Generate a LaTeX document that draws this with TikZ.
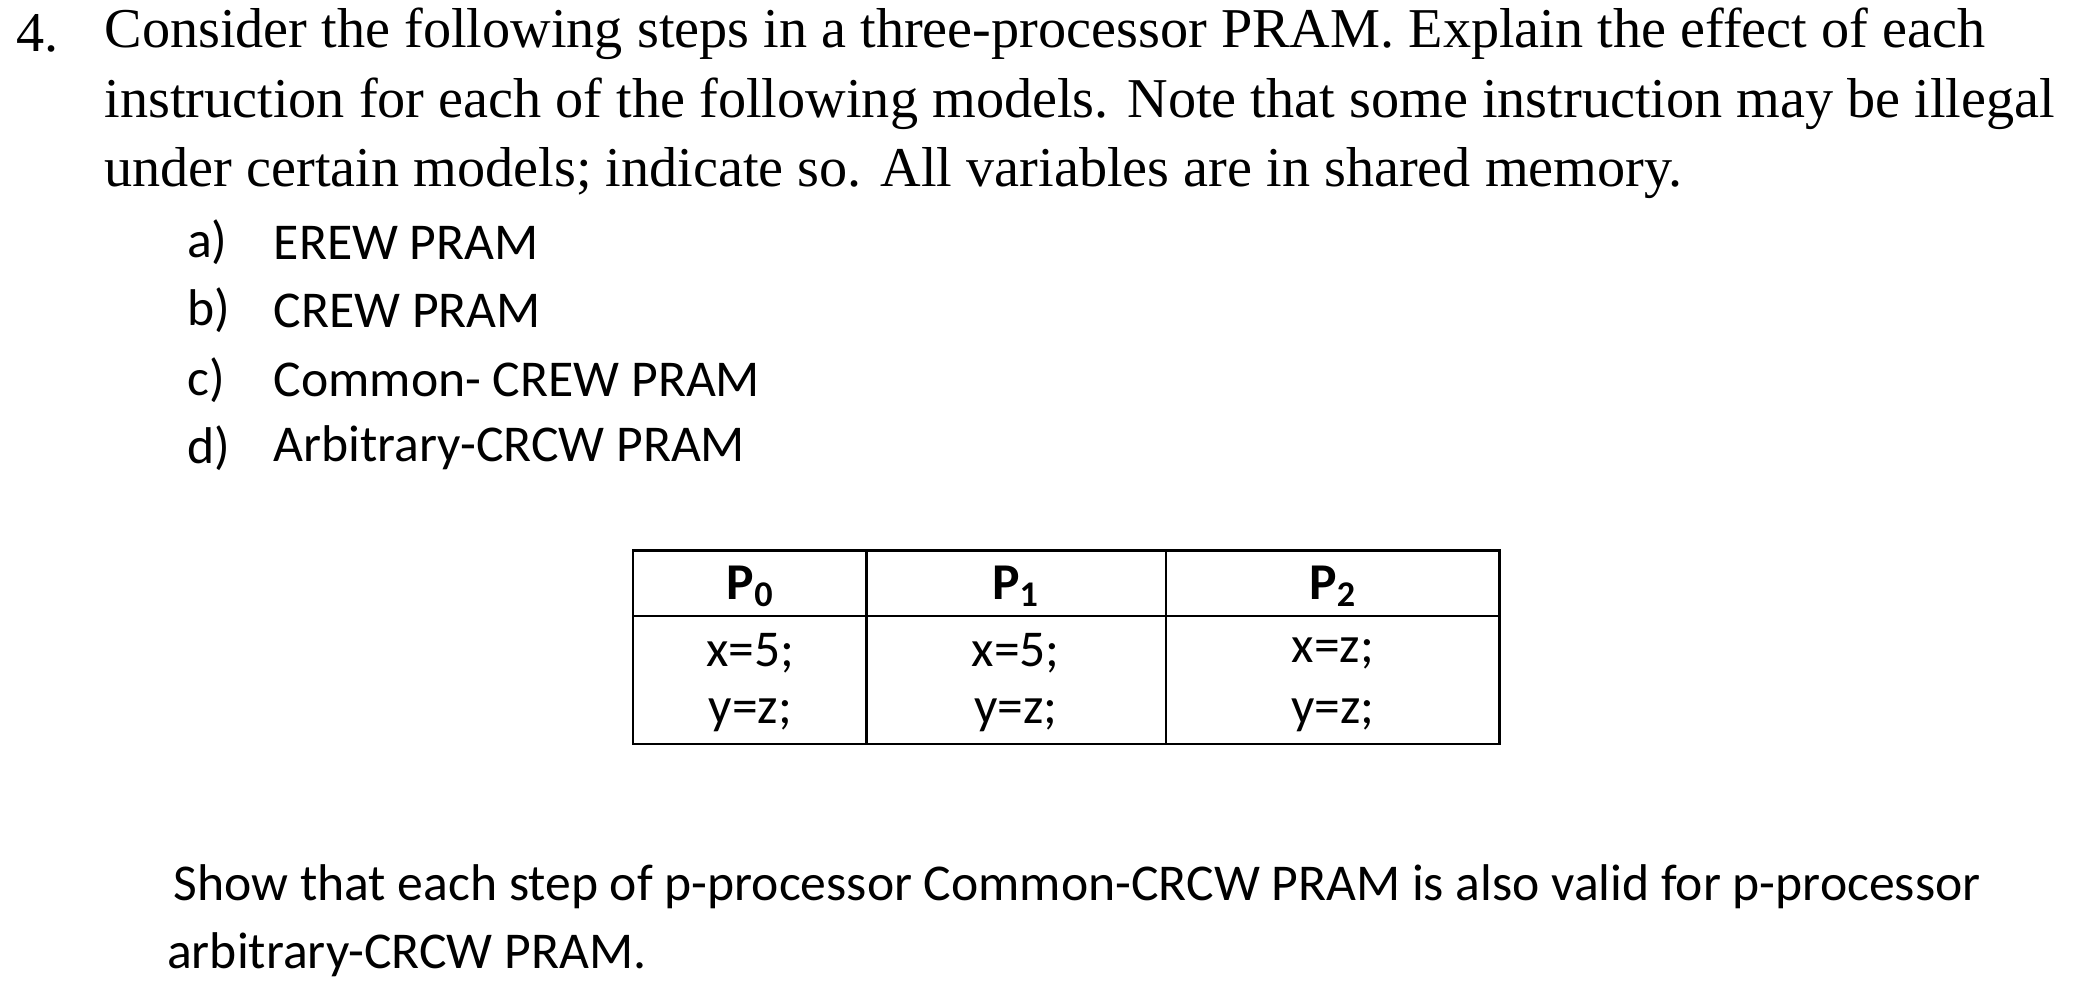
\documentclass[tikz,border=0pt]{standalone}
\usepackage{fontspec}
\setmainfont{Liberation Serif}
\newfontfamily\calib{Carlito}
\begin{document}
\begin{tikzpicture}[x=0.48pt,y=-0.48pt,
  serif/.style={anchor=west,inner sep=0pt,font=\fontsize{20.25}{24}\selectfont},
  sans/.style={anchor=west,inner sep=0pt,font=\calib\fontsize{18.6}{22}\selectfont},
  cell/.style={inner sep=0pt,font=\calib\fontsize{18.6}{22}\selectfont},
  rule/.style={line width=0.8pt}]
\useasboundingbox (0,0) rectangle (1568,755);
\node[serif] (n4) at (12,25) {4.};
\node[serif] (l1) at (78,25) {Consider the following steps in a three-processor PRAM. Explain the effect of each};
\node[serif] (l2) at (78,78) {instruction for each of the following models. Note that some instruction may be illegal};
\node[serif] (l3) at (78,130) {under certain models; indicate so. All variables are in shared memory.};
\node[sans] (a) at (140,182) {a)}; \node[sans] (at) at (205,182) {EREW PRAM};
\node[sans] (b) at (140,233) {b)}; \node[sans] (bt) at (205,233) {CREW PRAM};
\node[sans] (c) at (140,285) {c)}; \node[sans] (ct) at (205,285) {Common- CREW PRAM};
\node[sans] (d) at (140,336) {d)}; \node[sans] (dt) at (205,336) {Arbitrary-CRCW PRAM};
\draw[rule] (475,413) rectangle (1125,558);
\draw[rule] (475,462) -- (1125,462);
\draw[rule] (650,413) -- (650,558);
\draw[rule] (875,413) -- (875,558);
\node[cell] (h0) at (563,440) {\bfseries P\textsubscript{0}};
\node[cell] (h1) at (762,440) {\bfseries P\textsubscript{1}};
\node[cell] (h2) at (1000,440) {\bfseries P\textsubscript{2}};
\node[cell] (r10) at (563,490) {x=5;};
\node[cell] (r11) at (762,490) {x=5;};
\node[cell] (r12) at (1000,490) {x=z;};
\node[cell] (r20) at (563,537) {y=z;};
\node[cell] (r21) at (762,537) {y=z;};
\node[cell] (r22) at (1000,537) {y=z;};
\node[sans] (s1) at (130,665) {Show that each step of p-processor Common-CRCW PRAM is also valid for p-processor};
\node[sans] (s2) at (125,716) {arbitrary-CRCW PRAM.};
\end{tikzpicture}
\end{document}
